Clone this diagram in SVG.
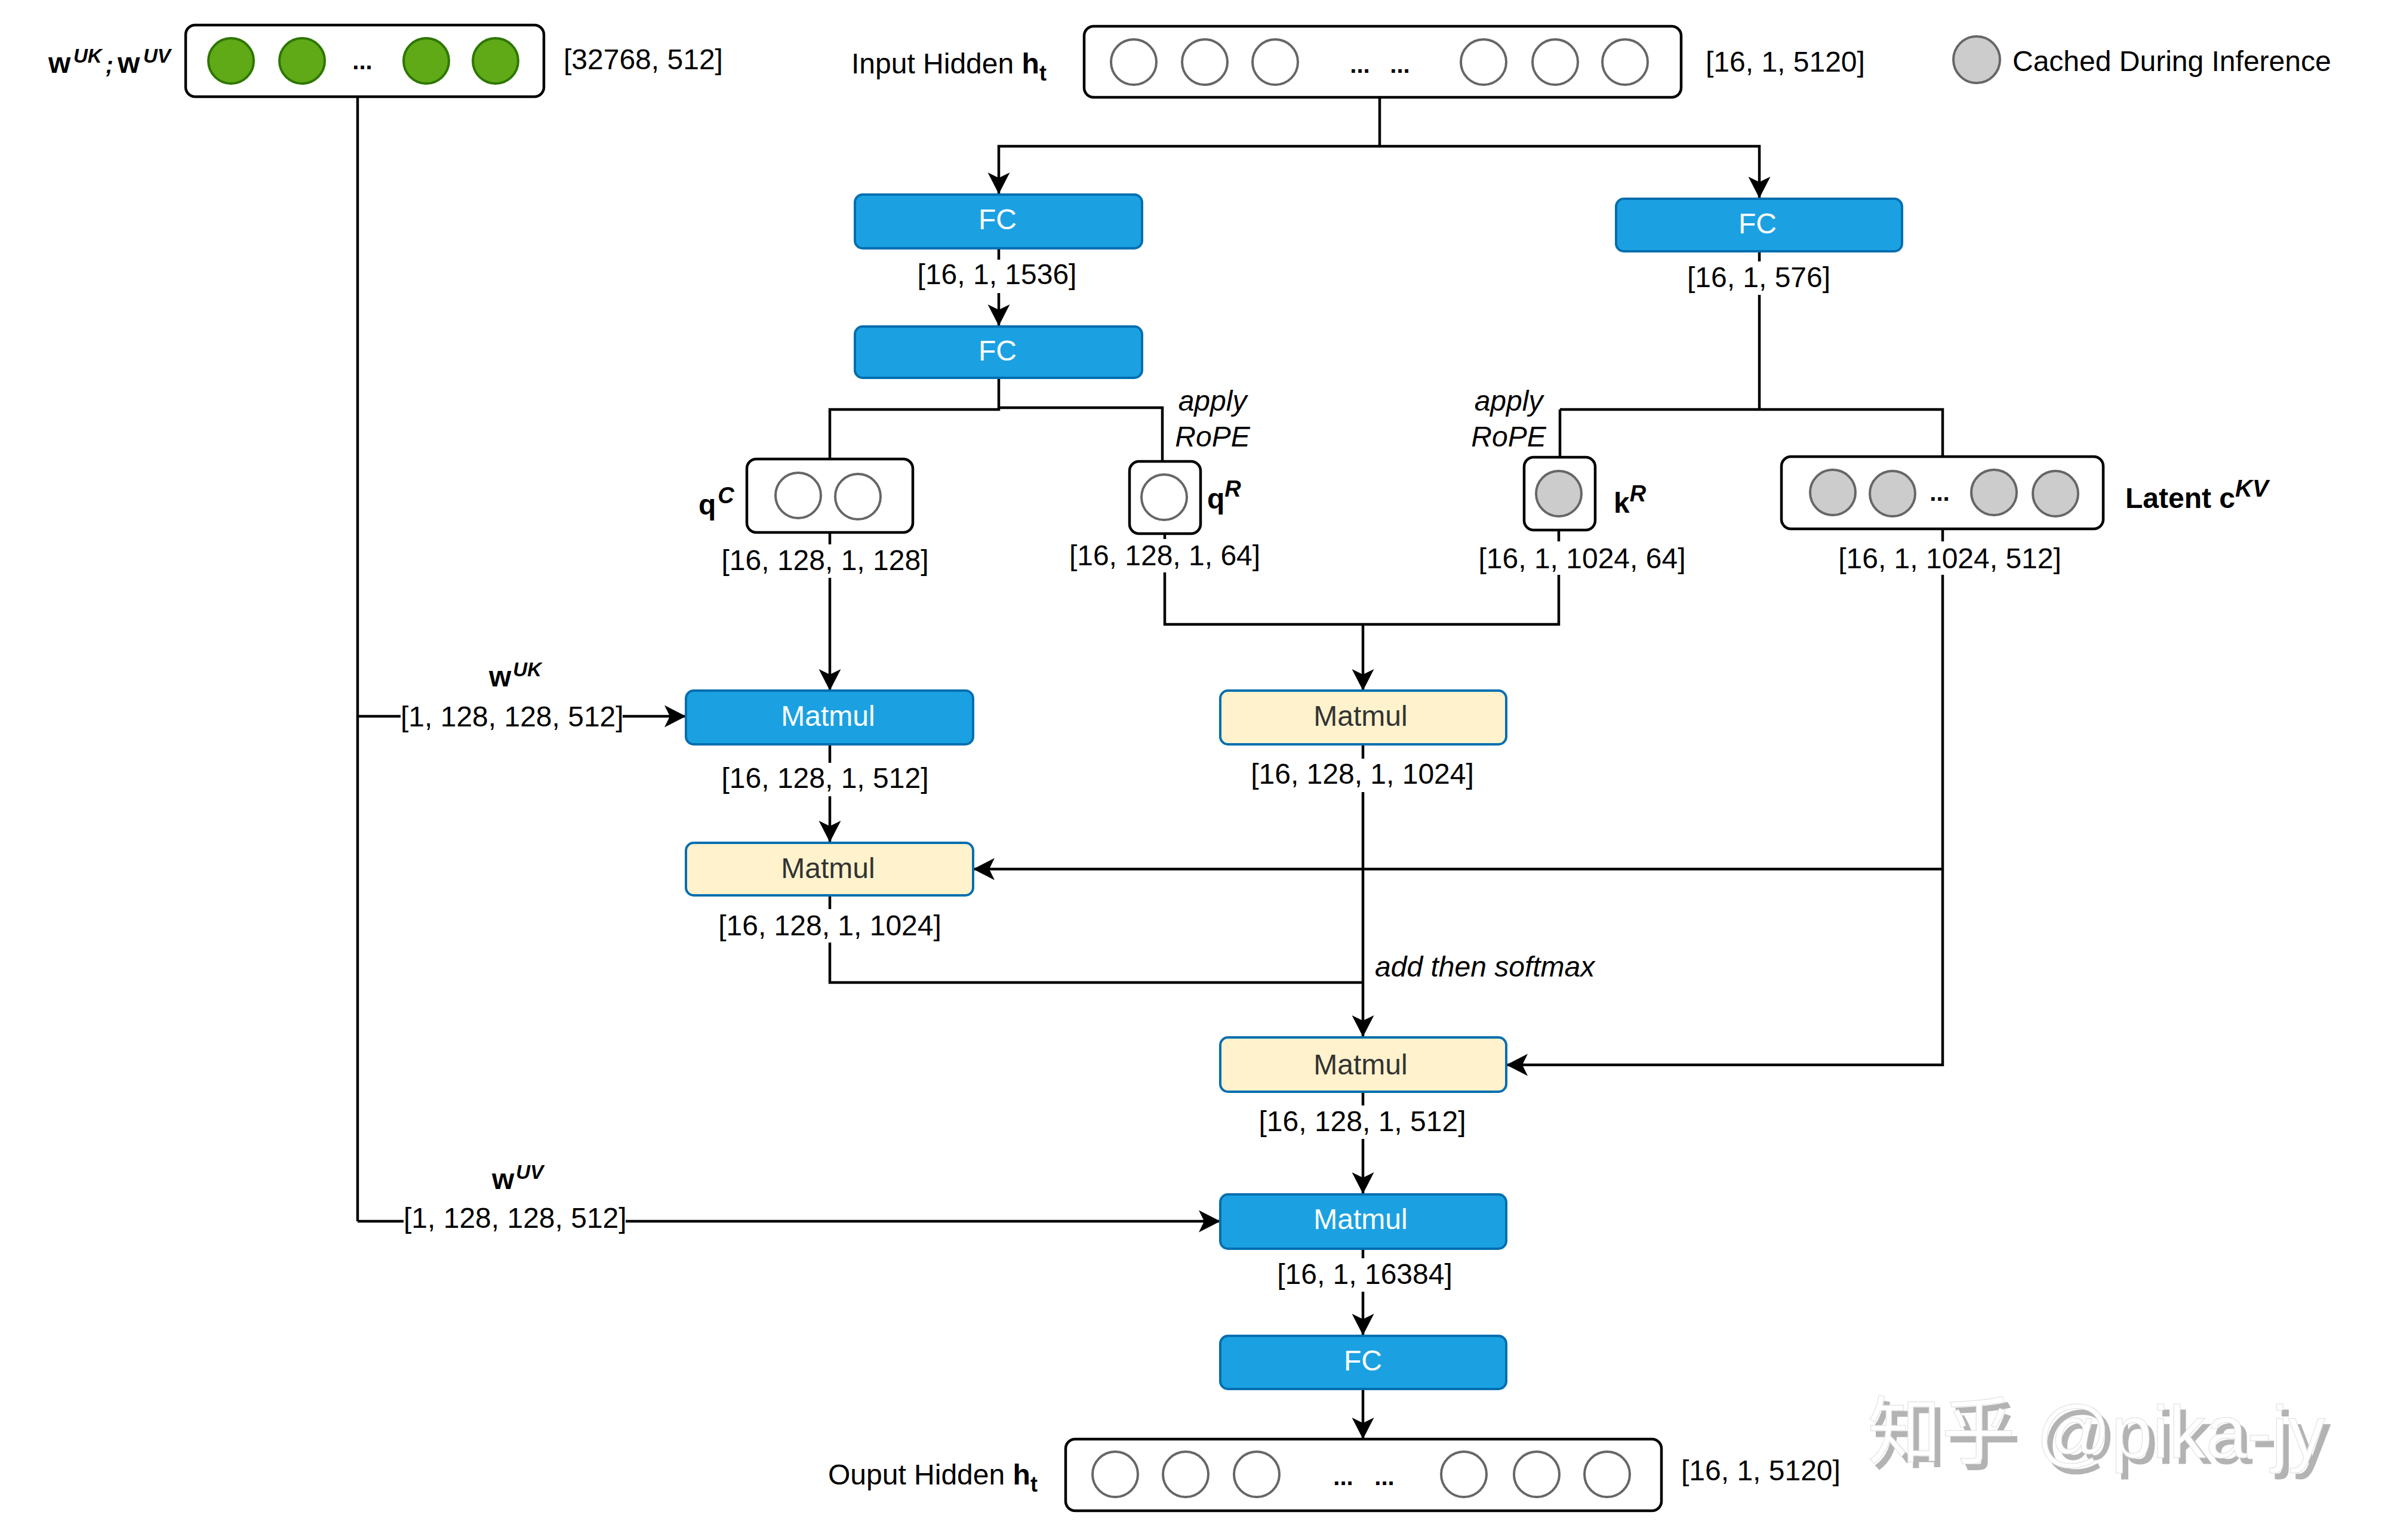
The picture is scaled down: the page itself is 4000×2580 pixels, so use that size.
<svg xmlns="http://www.w3.org/2000/svg" width="4000" height="2580" viewBox="0 0 4000 2580">
<style>
text{font-family:"Liberation Sans","Noto Sans CJK SC",sans-serif;font-size:48px;fill:#000}
.m{text-anchor:middle}.b{font-weight:bold}.i{font-style:italic}
.sup{font-size:38px;font-weight:bold;font-style:italic}
.s32{font-size:33px}
.box{fill:#fff;stroke:#000;stroke-width:4.5}
.o{fill:#fff;stroke:#666;stroke-width:4}
.g{fill:#ccc;stroke:#666;stroke-width:4}
.gr{fill:#60a917;stroke:#2d7600;stroke-width:4}
.blue{fill:#1ba1e2;stroke:#006eaf;stroke-width:4}
.cream{fill:#fff2cc;stroke:#006eaf;stroke-width:4}
.wt{fill:#fff}.dk{fill:#333}
.c{fill:none;stroke:#000;stroke-width:4.5}
.a{marker-end:url(#arr)}
.bg{fill:#fff;stroke:none}
.dots{font-size:40px;font-weight:bold;text-anchor:middle}
</style>
<defs>
<marker id="arr" markerUnits="userSpaceOnUse" markerWidth="38" markerHeight="40" refX="36" refY="19" orient="auto">
<path d="M0,0.5 L36,19 L0,37.5 L9,19 Z" fill="#000"/>
</marker>
<filter id="wmshadow" x="-5%" y="-20%" width="110%" height="140%">
<feDropShadow dx="9" dy="10" stdDeviation="0" flood-color="#b3b3b3"/>
</filter>
</defs>
<g id="connectors">
<path class="c" d="M2311,163V245"/>
<path class="c a" d="M2311,245H1673V325"/>
<path class="c a" d="M2311,245H2947V332"/>
<path class="c a" d="M1673,416V546"/>
<path class="c" d="M2947,421V686"/>
<path class="c" d="M1673,633V686H1390V768"/>
<path class="c" d="M1673,683H1947V772"/>
<path class="c" d="M2613,686V765"/>
<path class="c" d="M2613,686H3254V763"/>
<path class="c a" d="M1390,892V1157"/>
<path class="c" d="M1951,894V1046H2283"/>
<path class="c" d="M2611,888V1046H2283"/>
<path class="c a" d="M2283,1046V1157"/>
<path class="c a" d="M2283,1247V1737"/>
<path class="c a" d="M1390,1247V1411"/>
<path class="c" d="M1390,1500V1646H2283"/>
<path class="c a" d="M3254,1456H1630"/>
<path class="c a" d="M3254,886V1784H2523"/>
<path class="c a" d="M2283,1829V2000"/>
<path class="c a" d="M2283,2092V2237"/>
<path class="c a" d="M2283,2327V2411"/>
<path class="c" d="M599,162V2046"/>
<path class="c a" d="M599,1200H1149"/>
<path class="c a" d="M599,2046H2044"/>
</g>
<g id="label-backgrounds">
<rect class="bg" x="1535" y="435" width="275" height="56"/>
<rect class="bg" x="2825" y="438" width="245" height="56"/>
<rect class="bg" x="1212" y="912" width="341" height="56"/>
<rect class="bg" x="1791" y="903" width="319" height="56"/>
<rect class="bg" x="2478" y="907" width="343" height="56"/>
<rect class="bg" x="3084" y="907" width="367" height="56"/>
<rect class="bg" x="1212" y="1278" width="341" height="56"/>
<rect class="bg" x="2095" y="1271" width="376" height="56"/>
<rect class="bg" x="1205" y="1523" width="376" height="56"/>
<rect class="bg" x="2110" y="1852" width="346" height="56"/>
<rect class="bg" x="2140" y="2108" width="292" height="56"/>
<rect class="bg" x="671" y="1172" width="372" height="56"/>
<rect class="bg" x="676" y="2015" width="372" height="56"/>
</g>
<g id="node-w">
<rect class="box" x="311" y="42" width="600" height="120" rx="16"/>
<circle class="gr" cx="387" cy="102" r="38"/><circle class="gr" cx="506" cy="102" r="38"/>
<circle class="gr" cx="714" cy="102" r="38"/><circle class="gr" cx="830" cy="102" r="38"/>
<text class="dots" x="607" y="116">...</text>
<text class="b" x="81" y="122">w<tspan class="sup s32" x="123" y="105">UK</tspan><tspan class="sup" x="177" y="122">;</tspan><tspan x="197" y="122">w</tspan><tspan class="sup s32" x="240" y="105">UV</tspan></text>
<text x="944" y="116">[32768, 512]</text>
</g>
<g id="node-input">
<rect class="box" x="1816" y="44" width="1000" height="119" rx="16"/>
<circle class="o" cx="1899" cy="104" r="38"/><circle class="o" cx="2018" cy="104" r="38"/><circle class="o" cx="2136" cy="104" r="38"/>
<circle class="o" cx="2485" cy="104" r="38"/><circle class="o" cx="2605" cy="104" r="38"/><circle class="o" cx="2722" cy="104" r="38"/>
<text class="dots" x="2278" y="122">...</text><text class="dots" x="2345" y="122">...</text>
<text x="1426" y="123">Input Hidden <tspan class="b">h</tspan><tspan class="b" dy="12" style="font-size:36px">t</tspan></text>
<text x="2857" y="120">[16, 1, 5120]</text>
</g>
<g id="node-legend">
<circle class="g" cx="3311" cy="100" r="39"/>
<text x="3371" y="119">Cached During Inference</text>
</g>
<g id="node-fc1"><rect class="blue" x="1432" y="326" width="481" height="90" rx="13"/><text class="m wt" x="1671" y="384">FC</text></g>
<g id="node-fc2"><rect class="blue" x="2707" y="333" width="479" height="88" rx="13"/><text class="m wt" x="2944" y="391">FC</text></g>
<g id="node-fc3"><rect class="blue" x="1432" y="547" width="481" height="86" rx="13"/><text class="m wt" x="1671" y="604">FC</text></g>
<g id="label-fc1"><text class="m" x="1670" y="476">[16, 1, 1536]</text></g>
<g id="label-fc2"><text class="m" x="2946" y="481">[16, 1, 576]</text></g>
<g id="node-qc">
<rect class="box" x="1251" y="769" width="278" height="123" rx="16"/>
<circle class="o" cx="1337" cy="830" r="38"/><circle class="o" cx="1437" cy="832" r="38"/>
<text class="b" x="1170" y="862">q<tspan class="sup" dy="-19" dx="3">C</tspan></text>
<text class="m" x="1382" y="955">[16, 128, 1, 128]</text>
</g>
<g id="node-qr">
<rect class="box" x="1892" y="773" width="119" height="121" rx="16"/>
<circle class="o" cx="1950" cy="833" r="38"/>
<text class="b" x="2022" y="852">q<tspan class="sup" dy="-20">R</tspan></text>
<text class="i m" x="2031" y="688">apply</text><text class="i m" x="2031" y="748">RoPE</text>
<text class="m" x="1951" y="947">[16, 128, 1, 64]</text>
</g>
<g id="node-kr">
<rect class="box" x="2553" y="766" width="119" height="122" rx="16"/>
<circle class="g" cx="2611" cy="827" r="38"/>
<text class="b" x="2703" y="859">k<tspan class="sup" dy="-19">R</tspan></text>
<text class="i m" x="2527" y="688">apply</text><text class="i m" x="2527" y="748">RoPE</text>
<text class="m" x="2650" y="952">[16, 1, 1024, 64]</text>
</g>
<g id="node-latent">
<rect class="box" x="2984" y="765" width="539" height="121" rx="16"/>
<circle class="g" cx="3070" cy="825" r="38"/><circle class="g" cx="3170" cy="827" r="38"/>
<circle class="g" cx="3340" cy="825" r="38"/><circle class="g" cx="3443" cy="827" r="38"/>
<text class="dots" x="3249" y="839">...</text>
<text class="b" x="3560" y="851">Latent c<tspan class="sup" dy="-19" style="font-size:40px">KV</tspan></text>
<text class="m" x="3266" y="952">[16, 1, 1024, 512]</text>
</g>
<g id="node-matmul-a"><rect class="blue" x="1149" y="1157" width="481" height="90" rx="13"/><text class="m wt" x="1387" y="1216">Matmul</text></g>
<g id="node-matmul-b"><rect class="cream" x="2044" y="1157" width="479" height="90" rx="13"/><text class="m dk" x="2279" y="1216">Matmul</text></g>
<g id="node-matmul-c"><rect class="cream" x="1149" y="1412" width="481" height="88" rx="13"/><text class="m dk" x="1387" y="1471">Matmul</text></g>
<g id="node-matmul-d"><rect class="cream" x="2044" y="1738" width="479" height="91" rx="13"/><text class="m dk" x="2279" y="1800">Matmul</text></g>
<g id="node-matmul-e"><rect class="blue" x="2044" y="2001" width="479" height="91" rx="13"/><text class="m wt" x="2279" y="2059">Matmul</text></g>
<g id="node-fc4"><rect class="blue" x="2044" y="2238" width="479" height="89" rx="13"/><text class="m wt" x="2283" y="2296">FC</text></g>
<g id="labels">
<text class="m" x="1382" y="1320">[16, 128, 1, 512]</text>
<text class="m" x="2282" y="1313">[16, 128, 1, 1024]</text>
<text class="m" x="1390" y="1567">[16, 128, 1, 1024]</text>
<text class="m" x="2282" y="1895">[16, 128, 1, 512]</text>
<text class="m" x="2286" y="2151">[16, 1, 16384]</text>
<text class="i" x="2303" y="1636">add then softmax</text>
<text x="671" y="1217">[1, 128, 128, 512]</text>
<text x="676" y="2057">[1, 128, 128, 512]</text>
<text class="b" x="819" y="1150">w<tspan class="sup s32" dy="-17" dx="3">UK</tspan></text>
<text class="b" x="824" y="1992">w<tspan class="sup s32" dy="-17" dx="3">UV</tspan></text>
</g>
<g id="node-output">
<rect class="box" x="1785" y="2411" width="998" height="120" rx="16"/>
<circle class="o" cx="1868" cy="2470" r="38"/><circle class="o" cx="1986" cy="2470" r="38"/><circle class="o" cx="2105" cy="2470" r="38"/>
<circle class="o" cx="2452" cy="2470" r="38"/><circle class="o" cx="2574" cy="2470" r="38"/><circle class="o" cx="2692" cy="2470" r="38"/>
<text class="dots" x="2250" y="2488">...</text><text class="dots" x="2319" y="2488">...</text>
<text x="1387" y="2487">Ouput Hidden <tspan class="b">h</tspan><tspan class="b" dy="12" style="font-size:36px">t</tspan></text>
<text x="2816" y="2480">[16, 1, 5120]</text>
</g>
<g id="watermark">
<text x="3128" y="2442" filter="url(#wmshadow)" style="font-size:124px;fill:#fff;stroke:#ddd;stroke-width:1">知乎 @pika-jy</text>
</g>
</svg>
